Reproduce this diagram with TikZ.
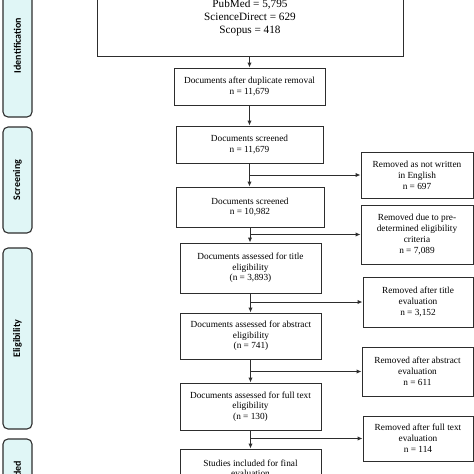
\documentclass[tikz,border=0pt]{standalone}
\usepackage{fontspec}
\setmainfont{Liberation Serif}
\newfontfamily\phasefont{Carlito}
\usetikzlibrary{arrows.meta}

\definecolor{phasefill}{RGB}{224,246,246}
\definecolor{linegray}{RGB}{45,45,45}

\begin{document}
\begin{tikzpicture}[x=1pt, y=-1pt,
                    box/.style={draw=linegray, line width=1pt, align=center, inner sep=1pt,
                                font=\fontsize{9.3}{10.4}\selectfont},
                    side/.style={box, font=\fontsize{9.3}{10.9}\selectfont},
                    phase/.style={draw=linegray, line width=1.1pt, fill=phasefill, rounded corners=5pt,
                                  rotate=90, minimum height=29pt,
                                  font=\phasefont\bfseries\fontsize{10}{12}\selectfont},
                    arr/.style={-{Latex[length=5pt,width=4.5pt]}, line width=1pt, draw=linegray}]
  \useasboundingbox (0,0) rectangle (474,474);
  \clip (0,0) rectangle (474,474);

  % phases
  \node[phase, minimum width=143pt] (ident) at (17.5,45.5) {Identification};
  \node[phase, minimum width=106pt] (screen) at (17.5,180) {Screening};
  \node[phase, minimum width=181pt] (elig) at (17.5,338.5) {Eligibility};
  \node[phase, minimum width=80pt] (incl) at (17.5,479) {Included};

  % main column
  \node[box, minimum width=306pt, minimum height=100pt, anchor=south] (src) at (250,57) {};
  \node[align=center, font=\fontsize{11.2}{13}\selectfont] (srctxt) at (250,18)
    {PubMed = 5,795\\ ScienceDirect = 629\\ Scopus = 418};
  \node[box, minimum width=151pt, minimum height=37pt] (dup) at (249.5,86.5)
    {Documents after duplicate removal\\ n = 11,679};
  \node[box, minimum width=147pt, minimum height=37pt] (scr1) at (249.5,144.5)
    {Documents screened\\ n = 11,679};
  \node[box, minimum width=148pt, minimum height=40pt] (scr2) at (250,207)
    {Documents screened\\ n = 10,982};
  \node[box, minimum width=141pt, minimum height=50pt] (title) at (250.5,268)
    {Documents assessed for title\\ eligibility\\ (n = 3,893)};
  \node[box, minimum width=141pt, minimum height=46pt] (abs) at (251,336)
    {Documents assessed for abstract\\ eligibility\\ (n = 741)};
  \node[box, minimum width=141pt, minimum height=47pt] (full) at (250.5,406.5)
    {Documents assessed for full text\\ eligibility\\ (n = 130)};
  \node[box, minimum width=141pt, minimum height=39pt] (final) at (250.5,468.5)
    {Studies included for final\\ evaluation};

  % removed
  \node[side, minimum width=112pt, minimum height=46pt] (rm1) at (417,175)
    {Removed as not written\\ in English\\ n = 697};
  \node[side, minimum width=112pt, minimum height=59pt] (rm2) at (417,234.5)
    {Removed due to pre-\\ determined eligibility\\ criteria\\ n = 7,089};
  \node[side, minimum width=110pt, minimum height=50pt] (rm3) at (418,302)
    {Removed after title\\ evaluation\\ n = 3,152};
  \node[side, minimum width=111pt, minimum height=49pt] (rm4) at (417.5,371.5)
    {Removed after abstract\\ evaluation\\ n = 611};
  \node[side, minimum width=110pt, minimum height=45pt] (rm5) at (418,438.5)
    {Removed after full text\\ evaluation\\ n = 114};

  % arrows
  \draw[arr] (src.south -| dup.north) -- (dup.north);
  \draw[arr] (dup.south) -- (scr1.north);
  \draw[arr] (scr1.south) -- (scr1.south |- scr2.north);
  \draw[arr] (scr2.south) -- (scr2.south |- title.north);
  \draw[arr] (title.south) -- (title.south |- abs.north);
  \draw[arr] (abs.south -| title.south) -- (title.south |- full.north);
  \draw[arr] (full.south) -- (full.south |- final.north);

  \coordinate (j1) at (scr1.south |- rm1.west);
  \coordinate (j2) at (scr2.south |- rm2.west);
  \coordinate (j3) at (title.south |- rm3.west);
  \coordinate (j4) at (title.south |- rm4.west);
  \coordinate (j5) at (full.south |- rm5.west);
  \draw[arr] (j1) -- (rm1.west);
  \draw[arr] (j2) -- (rm2.west);
  \draw[arr] (j3) -- (rm3.west);
  \draw[arr] (j4) -- (rm4.west);
  \draw[arr] (j5) -- (rm5.west);
\end{tikzpicture}
\end{document}
